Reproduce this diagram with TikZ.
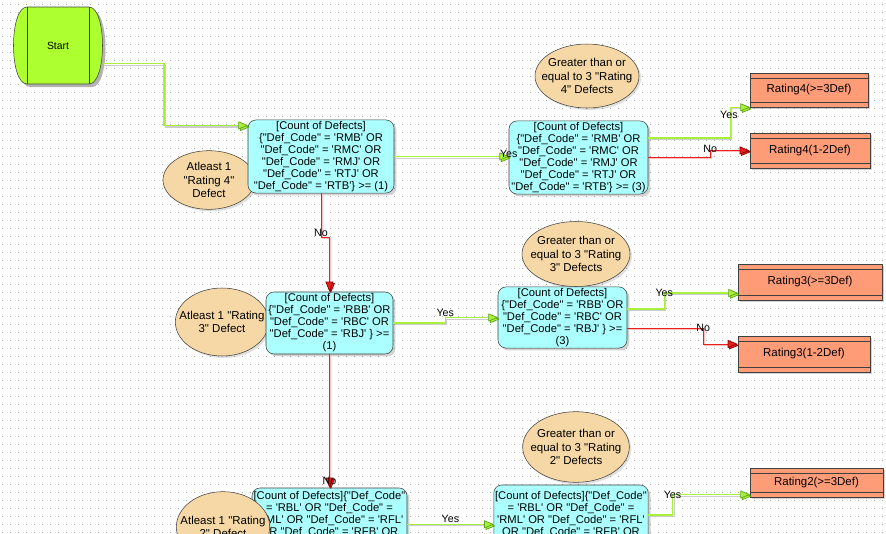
\documentclass[tikz,border=0pt]{standalone}
\usepackage{fontspec}
\setmainfont{Liberation Sans}[Ligatures=TeXOff]
\usepackage{tikz}
\usetikzlibrary{arrows.meta, calc, shadows, shapes.geometric}

\definecolor{cyanbox}{RGB}{172,255,255}
\definecolor{wheatell}{RGB}{246,216,166}
\definecolor{salmonbox}{RGB}{255,156,120}
\definecolor{startgreen}{RGB}{173,255,47}
\definecolor{yesgreen}{RGB}{168,240,60}
\definecolor{yesdark}{RGB}{90,160,20}
\definecolor{nored}{RGB}{232,30,30}
\definecolor{edgegray}{RGB}{64,64,64}

\begin{document}
\begin{tikzpicture}[x=0.75pt, y=-0.75pt,
  cond/.style={draw=edgegray, rounded corners=6pt, fill=cyanbox, align=center, inner sep=1pt, font=\fontsize{8.4}{9}\selectfont, drop shadow={shadow xshift=1.8pt, shadow yshift=-1.8pt, opacity=.35}},
  remark/.style={ellipse, draw=edgegray, fill=wheatell, align=center, inner sep=-10pt, font=\fontsize{8.6}{10}\selectfont, drop shadow={shadow xshift=1.5pt, shadow yshift=-1.5pt, opacity=.25}},
  result/.style={draw=edgegray, fill=salmonbox, font=\fontsize{8.6}{10}\selectfont, drop shadow={shadow xshift=1.8pt, shadow yshift=-1.8pt, opacity=.35},
    path picture={\draw[edgegray] ([yshift=-3.75pt]path picture bounding box.north west) -- ([yshift=-3.75pt]path picture bounding box.north east)
      ([yshift=3.75pt]path picture bounding box.south west) -- ([yshift=3.75pt]path picture bounding box.south east);}},
  lbl/.style={font=\fontsize{8}{9}\selectfont, inner sep=1pt},
  yesarr/.style={draw=yesgreen, line width=1.1pt, -{Triangle[length=7.5pt, width=6pt, round, fill=yesgreen, color=yesdark, line width=0.5pt]},
    preaction={draw=black!20, line width=0.8pt, transform canvas={shift={(1.2pt,-1.2pt)}}}},
  noarr/.style={draw=nored, line width=0.6pt, -{Triangle[length=7.5pt, width=6pt, fill=nored, color=red!55!black, line width=0.5pt]},
    preaction={draw=red!25, line width=0.6pt, transform canvas={shift={(1pt,-1pt)}}}},
  griddots/.style={gray!70, line width=0.75pt, dash pattern=on 0.75pt off 5.25pt},
]

% --- Canvas ---
\useasboundingbox (0,0) rectangle (886,533);
\clip (0,0) rectangle (886,533);
\fill[white] (0,0) rectangle (886,533);
\foreach \gy in {4,12,...,532} { \draw[griddots] (2,\gy) -- (886,\gy); }

% --- Start ---
\fill[black!30, shift={(3,3)}] (27,7) -- (89,7) .. controls (107,7) and (107,84) .. (89,84) -- (27,84) .. controls (9,84) and (9,7) .. cycle;
\filldraw[fill=startgreen, draw=edgegray] (27,7) -- (89,7) .. controls (107,7) and (107,84) .. (89,84) -- (27,84) .. controls (9,84) and (9,7) .. cycle;
\draw[edgegray] (27,7) -- (27,84) (89,7) -- (89,84);
\node[font=\fontsize{7.8}{9}\selectfont, minimum width=66.75pt, minimum height=57.75pt] (start) at (58,45.5) {Start};

% --- Rating 4 ---
\node[remark, minimum width=69pt, minimum height=44pt] (ell1) at (209,180) {Atleast 1\\"Rating 4"\\Defect};
\node[cond, minimum width=109.5pt, minimum height=54.75pt] (box1) at (321,156.5) {[Count of Defects]\\\{"Def\_Code" = 'RMB' OR\\"Def\_Code" = 'RMC' OR\\"Def\_Code" = 'RMJ' OR\\"Def\_Code" = 'RTJ' OR\\"Def\_Code" = 'RTB'\} >= (1)};
\node[remark, minimum width=78pt, minimum height=48pt] (ell2) at (587,76) {Greater than or\\equal to 3 "Rating\\4" Defects};
\node[cond, minimum width=104.25pt, minimum height=54.75pt] (box2) at (578.5,157.5) {[Count of Defects]\\\{"Def\_Code" = 'RMB' OR\\"Def\_Code" = 'RMC' OR\\"Def\_Code" = 'RMJ' OR\\"Def\_Code" = 'RTJ' OR\\"Def\_Code" = 'RTB'\} >= (3)};
\node[result, minimum width=88.5pt, minimum height=25.5pt] (r4a) at (809,90) {Rating4(>=3Def)};
\node[result, minimum width=90pt, minimum height=26.25pt] (r4b) at (810,150.5) {Rating4(1-2Def)};

% --- Rating 3 ---
\node[remark, minimum width=70pt, minimum height=51pt] (ell3) at (222,322) {Atleast 1 "Rating\\3" Defect};
\node[cond, minimum width=95.25pt, minimum height=46.5pt] (box3) at (329.5,323) {[Count of Defects]\\\{"Def\_Code" = 'RBB' OR\\"Def\_Code" = 'RBC' OR\\"Def\_Code" = 'RBJ' \} >=\\(1)};
\node[remark, minimum width=81pt, minimum height=48.75pt] (ell4) at (576,254) {Greater than or\\equal to 3 "Rating\\3" Defects};
\node[cond, minimum width=96.75pt, minimum height=45.75pt] (box4) at (562.5,317.5) {[Count of Defects]\\\{"Def\_Code" = 'RBB' OR\\"Def\_Code" = 'RBC' OR\\"Def\_Code" = 'RBJ' \} >=\\(3)};
\node[result, minimum width=108pt, minimum height=27pt] (r3a) at (810,282) {Rating3(>=3Def)};
\node[result, minimum width=99pt, minimum height=27pt] (r3b) at (804,354) {Rating3(1-2Def)};

% --- Rating 2 ---
\node[cond, minimum width=116.25pt, minimum height=40.5pt] (box5) at (329.5,515) {[Count of Defects]\{"Def\_Code"\\= 'RBL' OR "Def\_Code" =\\'RML' OR "Def\_Code" = 'RFL'\\OR "Def\_Code" = 'RFB' OR};
\node[remark, minimum width=70pt, minimum height=53pt] (ell5) at (223,527) {Atleast 1 "Rating\\2" Defect};
\node[remark, minimum width=80pt, minimum height=53pt] (ell6) at (576,447) {Greater than or\\equal to 3 "Rating\\2" Defects};
\node[cond, minimum width=114pt, minimum height=45pt] (box6) at (571,515) {[Count of Defects]\{"Def\_Code"\\= 'RBL' OR "Def\_Code" =\\'RML' OR "Def\_Code" = 'RFL'\\OR "Def\_Code" = 'RFB' OR};
\node[result, minimum width=99.75pt, minimum height=21.75pt] (r2a) at (816.5,482.5) {Rating2(>=3Def)};

% --- Connectors ---
\draw[yesarr] (start.-22) -- ++(61,0) |- (box1.157);

\draw[yesarr] (box1.east) -- (box1.east -| box2.west) node[lbl, above=-2pt] (yes1) {Yes};
\draw[yesarr] ([yshift=14.6pt]box2.east) -- ++(82,0) |- node[lbl, pos=.37, xshift=-1pt] (yes2) {Yes} (r4a.south west);
\draw[noarr] (box2.east) -- ++(62,0) |- node[lbl, pos=.5, above=-3pt] (no1) {No} (r4b.west);
\draw[noarr] (box1.south) -- node[lbl, pos=.9] (no2) {No} ++(0,44) -| (box3.north);

\draw[yesarr] (box3.east) -- ++(52,0) |- node[lbl, pos=.5, above=-1pt] (yes3) {Yes} (box4.west);
\draw[yesarr] ([yshift=6.4pt]box4.east) -- ++(37,0) |- node[lbl, pos=.5] (yes4) {Yes} ([yshift=-8.25pt]r3a.west);
\draw[noarr] ([yshift=-7.9pt]box4.east) -- ++(76,0) node[lbl] (no3) {No} |- ([yshift=7.5pt]r3b.west);
\draw[noarr] (box3.south) -- node[lbl, pos=.95] (no4) {No} (box5.north);

\draw[yesarr] ([yshift=-7pt]box5.east) -- node[lbl, above] (yes5) {Yes} ([yshift=-7pt]box6.west);
\draw[yesarr] (box6.east) -- ++(24,0) |- node[lbl, pos=.5] (yes6) {Yes} ([yshift=-9pt]r2a.west);

\end{tikzpicture}
\end{document}
